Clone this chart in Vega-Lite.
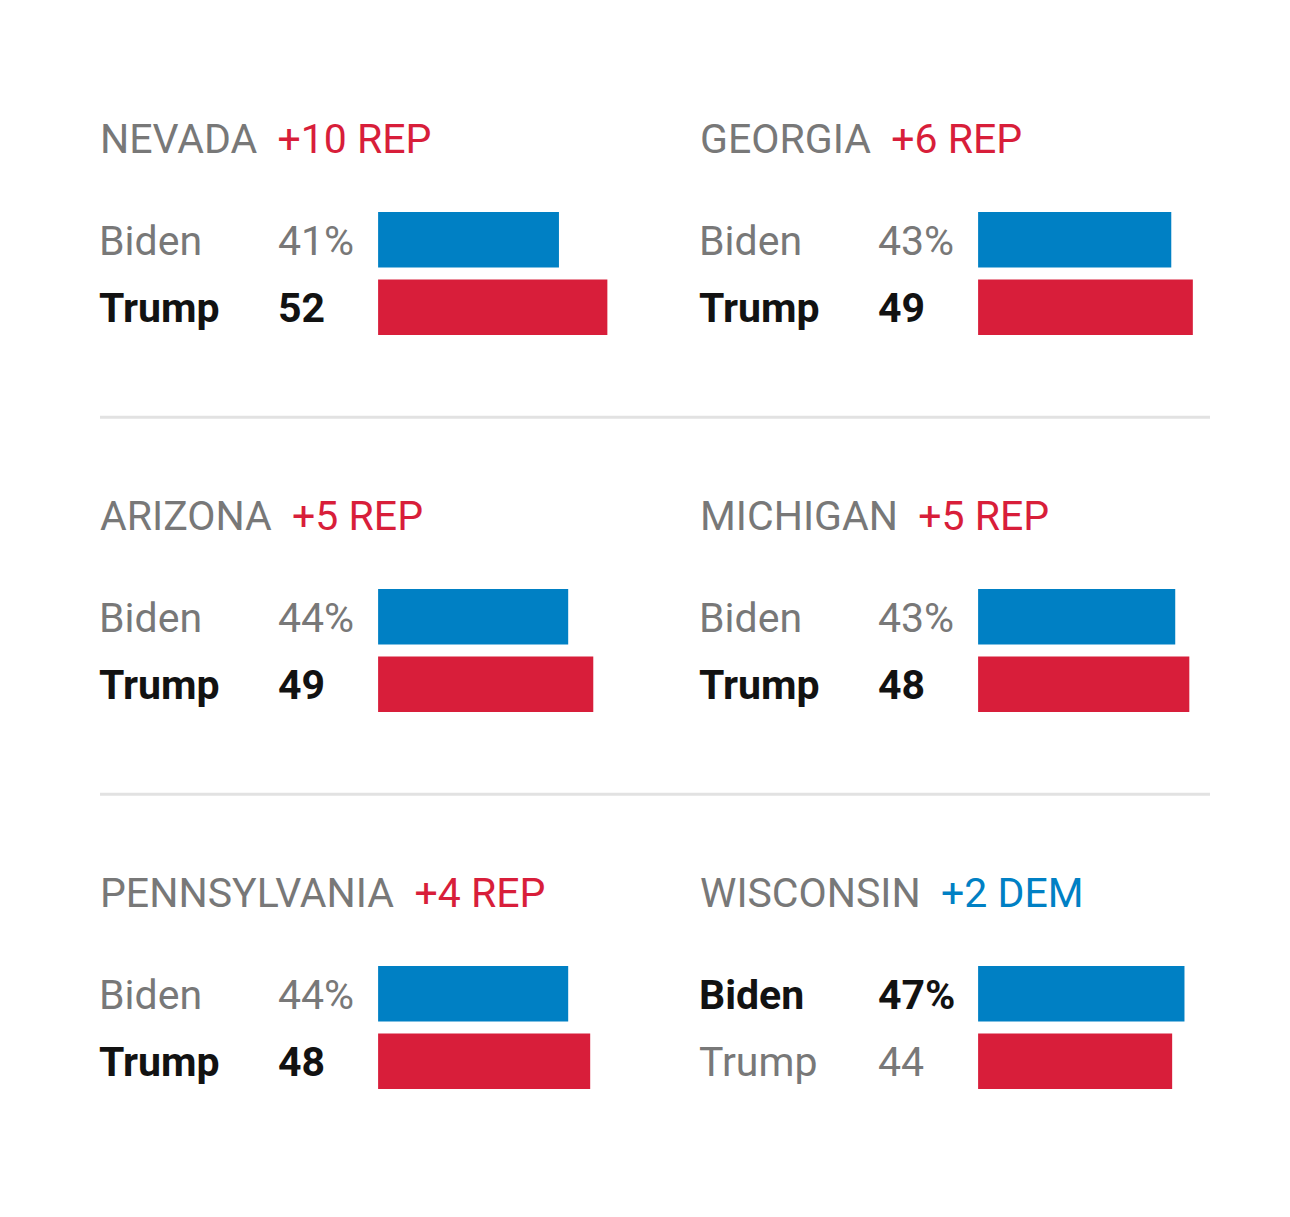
{
  "$schema": "https://vega.github.io/schema/vega-lite/v6.json",
  "background": "white",
  "padding": {"left": 98, "top": 85, "right": 82, "bottom": 0},
  "bounds": "flush",
  "data": {
    "values": [
      {"state": "NEVADA", "margin": "+10 REP", "lead": "REP", "cand": "Biden", "pct": 41.1, "label": "41%", "winner": false},
      {"state": "NEVADA", "margin": "+10 REP", "lead": "REP", "cand": "Trump", "pct": 52.1, "label": "52", "winner": true},
      {"state": "GEORGIA", "margin": "+6 REP", "lead": "REP", "cand": "Biden", "pct": 43.9, "label": "43%", "winner": false},
      {"state": "GEORGIA", "margin": "+6 REP", "lead": "REP", "cand": "Trump", "pct": 48.8, "label": "49", "winner": true},
      {"state": "ARIZONA", "margin": "+5 REP", "lead": "REP", "cand": "Biden", "pct": 43.2, "label": "44%", "winner": false},
      {"state": "ARIZONA", "margin": "+5 REP", "lead": "REP", "cand": "Trump", "pct": 48.9, "label": "49", "winner": true},
      {"state": "MICHIGAN", "margin": "+5 REP", "lead": "REP", "cand": "Biden", "pct": 44.8, "label": "43%", "winner": false},
      {"state": "MICHIGAN", "margin": "+5 REP", "lead": "REP", "cand": "Trump", "pct": 48.0, "label": "48", "winner": true},
      {"state": "PENNSYLVANIA", "margin": "+4 REP", "lead": "REP", "cand": "Biden", "pct": 43.2, "label": "44%", "winner": false},
      {"state": "PENNSYLVANIA", "margin": "+4 REP", "lead": "REP", "cand": "Trump", "pct": 48.2, "label": "48", "winner": true},
      {"state": "WISCONSIN", "margin": "+2 DEM", "lead": "DEM", "cand": "Biden", "pct": 46.9, "label": "47%", "winner": true},
      {"state": "WISCONSIN", "margin": "+2 DEM", "lead": "DEM", "cand": "Trump", "pct": 44.1, "label": "44", "winner": false}
    ]
  },
  "facet": {
    "field": "state",
    "type": "nominal",
    "sort": ["NEVADA", "GEORGIA", "ARIZONA", "MICHIGAN", "PENNSYLVANIA", "WISCONSIN"],
    "title": null,
    "header": {"labelExpr": "''", "labelFontSize": 0, "labelPadding": 0, "labelColor": "white", "title": null}
  },
  "columns": 2,
  "spacing": {"row": 0, "column": 90},
  "spec": {
    "width": 510,
    "height": 377,
    "encoding": {
      "y": {
        "field": "cand",
        "type": "nominal",
        "axis": null,
        "scale": {"domain": ["Biden", "Trump"], "range": [127, 250], "paddingInner": 0.178, "paddingOuter": 0}
      }
    },
    "layer": [
      {
        "transform": [
          {"filter": {"field": "state", "oneOf": ["NEVADA", "ARIZONA"]}},
          {"filter": "datum.cand == 'Trump'"}
        ],
        "mark": {"type": "rule", "color": "#e2e2e2", "strokeWidth": 3, "yOffset": 110},
        "encoding": {
          "x": {"datum": -63.2, "type": "quantitative", "axis": null, "scale": {"domain": [-63.2, 52.7], "nice": false}},
          "x2": {"datum": 189.05}
        }
      },
      {
        "mark": {"type": "bar"},
        "encoding": {
          "x": {"field": "pct", "type": "quantitative", "stack": null, "axis": null, "scale": {"domain": [-63.2, 52.7], "nice": false}},
          "color": {
            "field": "cand",
            "type": "nominal",
            "legend": null,
            "scale": {"domain": ["Biden", "Trump"], "range": ["#0080c4", "#d81e3a"]}
          }
        }
      },
      {
        "transform": [{"filter": "datum.winner"}],
        "mark": {"type": "text", "align": "left", "baseline": "alphabetic", "dx": -1, "dy": 15, "fontWeight": "bold", "color": "#121212"},
        "encoding": {
          "x": {"datum": -63.2, "type": "quantitative", "scale": {"domain": [-63.2, 52.7], "nice": false}},
          "text": {"field": "cand"}
        }
      },
      {
        "transform": [{"filter": "datum.winner"}],
        "mark": {"type": "text", "align": "left", "baseline": "alphabetic", "dx": -2, "dy": 15, "fontWeight": "bold", "color": "#121212"},
        "encoding": {
          "x": {"datum": -22.3, "type": "quantitative", "scale": {"domain": [-63.2, 52.7], "nice": false}},
          "text": {"field": "label"}
        }
      },
      {
        "transform": [{"filter": "!datum.winner"}],
        "mark": {"type": "text", "align": "left", "baseline": "alphabetic", "dx": -1, "dy": 15, "color": "#787878"},
        "encoding": {
          "x": {"datum": -63.2, "type": "quantitative", "scale": {"domain": [-63.2, 52.7], "nice": false}},
          "text": {"field": "cand"}
        }
      },
      {
        "transform": [{"filter": "!datum.winner"}],
        "mark": {"type": "text", "align": "left", "baseline": "alphabetic", "dx": -2, "dy": 15, "color": "#787878"},
        "encoding": {
          "x": {"datum": -22.3, "type": "quantitative", "scale": {"domain": [-63.2, 52.7], "nice": false}},
          "text": {"field": "label"}
        }
      },
      {
        "transform": [{"filter": "datum.cand == 'Biden'"}],
        "mark": {
          "type": "text",
          "align": "left",
          "baseline": "alphabetic",
          "dy": -86.5,
          "text": {"expr": "datum.state + '\u00a0\u00a0' + datum.margin"}
        },
        "encoding": {
          "x": {"datum": -63.2, "type": "quantitative", "scale": {"domain": [-63.2, 52.7], "nice": false}},
          "color": {"condition": {"test": "datum.lead == 'DEM'", "value": "#0080c4"}, "value": "#d81e3a"}
        }
      },
      {
        "transform": [{"filter": "datum.cand == 'Biden'"}],
        "mark": {"type": "text", "align": "left", "baseline": "alphabetic", "dy": -86.5, "fill": "white", "stroke": "white", "strokeWidth": 3},
        "encoding": {
          "x": {"datum": -63.2, "type": "quantitative", "scale": {"domain": [-63.2, 52.7], "nice": false}},
          "text": {"field": "state"}
        }
      },
      {
        "transform": [{"filter": "datum.cand == 'Biden'"}],
        "mark": {"type": "text", "align": "left", "baseline": "alphabetic", "dy": -86.5, "color": "#787878"},
        "encoding": {
          "x": {"datum": -63.2, "type": "quantitative", "scale": {"domain": [-63.2, 52.7], "nice": false}},
          "text": {"field": "state"}
        }
      }
    ]
  },
  "config": {
    "view": {"stroke": null},
    "text": {"font": "Roboto", "fontSize": 41}
  }
}
